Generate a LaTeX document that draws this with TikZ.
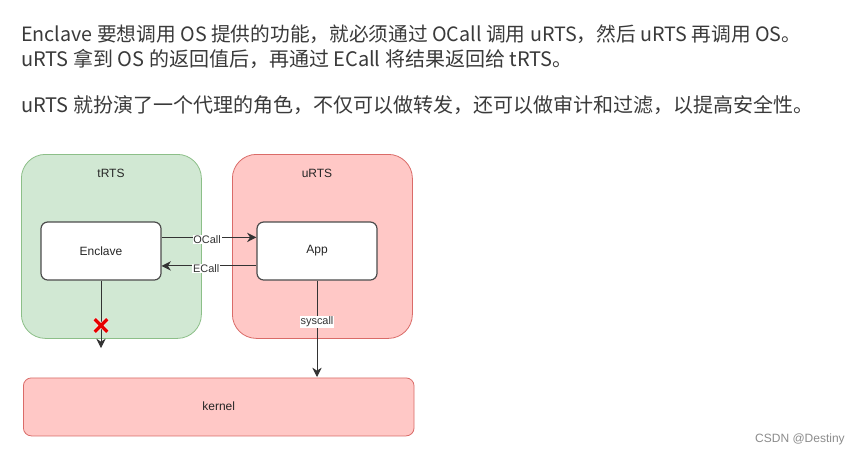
\documentclass[tikz,border=0pt]{standalone}
\usepackage{fontspec}
\setmainfont{Liberation Sans}
\newfontfamily\cjk{Noto Sans CJK SC}
\usetikzlibrary{arrows.meta}
\definecolor{gfill}{HTML}{D1E8D3}
\definecolor{gline}{HTML}{8CBF88}
\definecolor{rfill}{HTML}{FFC8C6}
\definecolor{rline}{HTML}{DA6B68}
\definecolor{bodytext}{HTML}{3A3A3A}
\tikzset{
  x=0.75pt,y=-0.75pt,
  para/.style={anchor=base west,inner sep=0,font=\cjk\fontsize{15}{18}\selectfont,text=bodytext},
  region/.style={draw,line width=0.6pt,rounded corners=18pt,anchor=north west,inner sep=0,align=center},
  greenregion/.style={region,fill=gfill,draw=gline},
  redregion/.style={region,fill=rfill,draw=rline},
  whitebox/.style={draw=black!70,line width=0.9pt,fill=white,rounded corners=5pt,minimum width=90pt,minimum height=43.5pt,inner sep=0,font=\fontsize{9}{10}\selectfont,text=black!85},
  title/.style={inner sep=0,font=\fontsize{9}{10}\selectfont,text=black!85},
  edgelabel/.style={fill=white,inner sep=0.6pt,font=\fontsize{8.2}{9}\selectfont,text=black!80},
  conn/.style={draw=black!80,line width=0.75pt,-{Stealth[length=7pt,width=7pt]}}
}
\begin{document}
\begin{tikzpicture}
\useasboundingbox (0,0) rectangle (860,454);
\fill[white] (0,0) rectangle (860,454);
\node[para,font=\cjk\fontsize{14.78}{18}\selectfont] (p1) at (21,41) {Enclave 要想调用 OS 提供的功能，就必须通过 OCall 调用 uRTS，然后 uRTS 再调用 OS。};
\node[para] (p2) at (21,66) {uRTS 拿到 OS 的返回值后，再通过 ECall 将结果返回给 tRTS。};
\node[para] (p3) at (21,112) {uRTS 就扮演了一个代理的角色，不仅可以做转发，还可以做审计和过滤，以提高安全性。};

\node[greenregion,minimum width=135pt,minimum height=138pt] (trts) at (21,154) {};
\node[redregion,minimum width=135pt,minimum height=138pt] (urts) at (232,154) {};
\node[redregion,rounded corners=6pt,minimum width=293pt,minimum height=43.5pt,font=\fontsize{9}{10}\selectfont,text=black!85] (kernel) at (23,377.5) {\raisebox{1pt}{kernel}};
\node[title] (ttitle) at (111,173) {tRTS};
\node[title] (utitle) at (317,173) {uRTS};
\node[whitebox] (enclave) at (101,251) {Enclave};
\node[whitebox] (app) at (317,251) {\raisebox{-1pt}{App}};

\coordinate (oa) at ([yshift=10.2pt]enclave.east);
\coordinate (ob) at ([yshift=10.2pt]app.west);
\coordinate (ea) at ([yshift=-11.2pt]app.west);
\coordinate (eb) at ([yshift=-11.2pt]enclave.east);
\draw[conn] (oa) -- node[edgelabel,pos=0.48,yshift=-1.5pt] (ocalllabel) {OCall} (ob);
\draw[conn] (ea) -- node[edgelabel,pos=0.53,yshift=-2pt] (ecalllabel) {ECall} (eb);
\coordinate (dead) at (101,348);
\draw[conn] (enclave.south) -- (dead);
\coordinate (sys) at (317,377);
\draw[conn] (app.south) -- node[edgelabel,pos=0.42,yshift=-0.8pt] (syslabel) {syscall} (sys);
\node[inner sep=0,minimum size=9pt] (cross) at (101,325.5) {};
\draw[draw=white,line width=3.4pt] (cross.north west) -- (cross.south east) (cross.north east) -- (cross.south west);
\draw[draw=red!90!black,line width=2.4pt] (cross.north west) -- (cross.south east) (cross.north east) -- (cross.south west);
\node[anchor=base east,inner sep=0,font=\fontsize{9}{10}\selectfont,text=black!45] (mark) at (845,442) {CSDN @Destiny};
\end{tikzpicture}
\end{document}
